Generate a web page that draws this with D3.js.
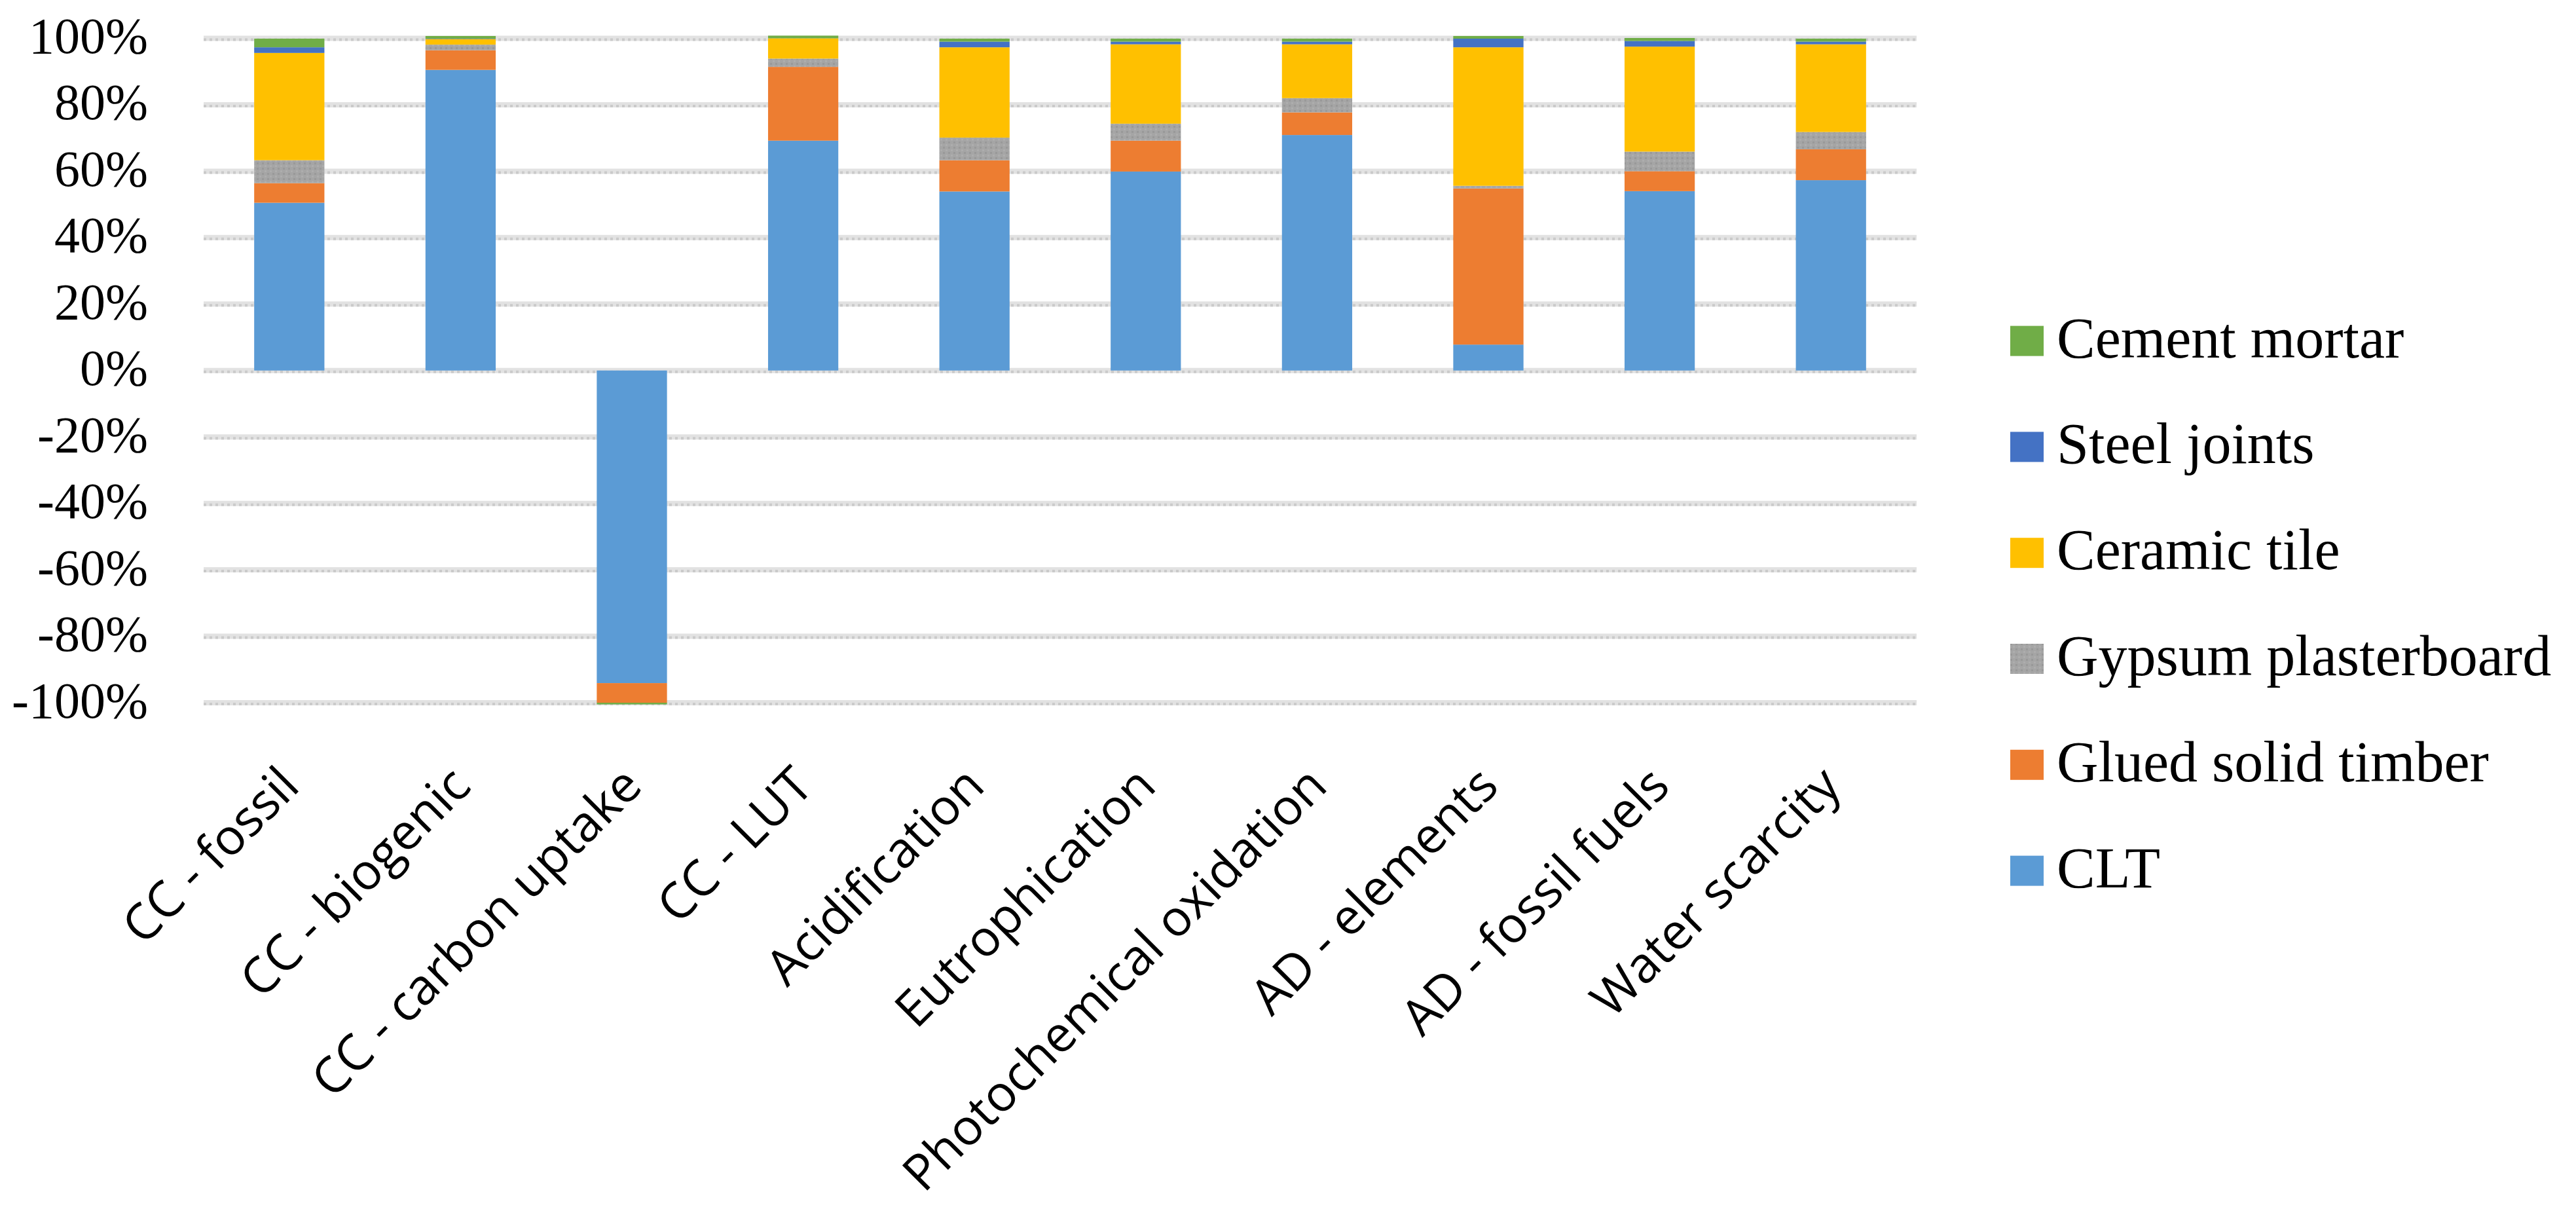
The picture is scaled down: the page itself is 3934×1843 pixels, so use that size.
<!DOCTYPE html>
<html>
<head>
<meta charset="utf-8">
<title>Stacked contributions</title>
<script src="https://d3js.org/d3.v7.min.js"></script>
<style>
  body { margin: 0; background: #fff; }
  .ytick text { font-family: "Palatino Linotype", "Book Antiqua", Palatino, "Liberation Serif", serif; font-size: 78px; fill: #000; }
  .xtick text { font-family: "Open Sans", "Segoe UI", sans-serif; font-size: 76px; fill: #000; }
  .legend text { font-family: "Palatino Linotype", "Book Antiqua", Palatino, "Liberation Serif", serif; font-size: 88px; fill: #000; }
</style>
</head>
<body>
<script>
var width = 3934, height = 1843;

var categories = ["CC - fossil", "CC - biogenic", "CC - carbon uptake", "CC - LUT", "Acidification",
  "Eutrophication", "Photochemical oxidation", "AD - elements", "AD - fossil fuels", "Water scarcity"];

var seriesNames = ["CLT", "Glued solid timber", "Gypsum plasterboard", "Ceramic tile", "Steel joints", "Cement mortar"];

// shares in %
var clt      = [50.5, 90.5, -94.1, 69.2, 53.9, 59.9, 70.9,  7.8, 54.0, 57.3];
var glued    = [ 5.9,  5.9,  -5.9, 22.2,  9.4,  9.3,  6.8, 47.0,  6.0,  9.3];
var gypsum   = [ 6.9,  1.7,   0.0,  2.5,  6.8,  5.1,  4.3,  0.8,  5.9,  5.2];
var ceramic  = [32.3,  1.7,   0.0,  6.1, 27.2, 23.9, 16.2, 41.7, 31.6, 26.4];
var steel    = [ 1.7,  0.1,   0.0,  0.0,  1.7,  0.8,  0.8,  2.6,  1.7,  0.8];
var cement   = [ 2.6,  0.8,  -0.5,  0.8,  0.9,  0.9,  0.9,  0.8,  0.9,  0.9];

var yTicks = [-100, -80, -60, -40, -20, 0, 20, 40, 60, 80, 100];

var colors = ["#5B9BD5", "#ED7D31", "url(#gypsum)", "#FFC000", "#4472C4", "#70AD47"];
var swatch = ["#5B9BD5", "#ED7D31", "url(#gypsum)", "#FFC000", "#4472C4", "#70AD47"];

var valuesBySeries = [clt, glued, gypsum, ceramic, steel, cement];
var table = categories.map(function(c, i) {
  var row = { cat: c };
  seriesNames.forEach(function(s, j) { row[s] = valuesBySeries[j][i]; });
  return row;
});

var svg = d3.select("body").append("svg")
  .attr("width", width)
  .attr("height", height);

var defs = svg.append("defs");
var pat = defs.append("pattern")
  .attr("id", "gypsum")
  .attr("width", 8).attr("height", 8)
  .attr("patternUnits", "userSpaceOnUse");
pat.append("rect").attr("width", 8).attr("height", 8).attr("fill", "#A5A5A5");
pat.append("rect").attr("x", 0).attr("y", 0).attr("width", 3).attr("height", 3).attr("fill", "#999999");
pat.append("rect").attr("x", 4).attr("y", 4).attr("width", 3).attr("height", 3).attr("fill", "#ADADAD");

var x = d3.scaleBand()
  .domain(categories)
  .range([311, 2927])
  .paddingInner(0.59)
  .paddingOuter(0.295);

var y = d3.scaleLinear()
  .domain([-100, 100])
  .range([1073, 58.5]);

// gridlines
var grid = svg.append("g");
grid.selectAll("line.base")
  .data(yTicks)
  .enter()
  .append("line")
  .attr("class", "base")
  .attr("x1", 311).attr("x2", 2927)
  .attr("y1", function(d) { return y(d); })
  .attr("y2", function(d) { return y(d); })
  .attr("stroke", "#e2e2e2")
  .attr("stroke-width", 8);
grid.selectAll("line.dots")
  .data(yTicks)
  .enter()
  .append("line")
  .attr("class", "dots")
  .attr("x1", 311).attr("x2", 2927)
  .attr("y1", function(d) { return y(d) + 2; })
  .attr("y2", function(d) { return y(d) + 2; })
  .attr("stroke", "#cacaca")
  .attr("stroke-width", 4)
  .attr("stroke-dasharray", "4,5");

// stacked bars
var stack = d3.stack()
  .keys(seriesNames)
  .offset(d3.stackOffsetDiverging);

var layers = svg.append("g").selectAll("g")
  .data(stack(table))
  .enter()
  .append("g")
  .attr("fill", function(d, i) { return colors[i]; });

layers.selectAll("rect")
  .data(function(d) { return d; })
  .enter()
  .append("rect")
  .attr("x", function(d) { return x(d.data.cat); })
  .attr("width", x.bandwidth())
  .attr("y", function(d) { return y(Math.max(d[0], d[1])); })
  .attr("height", function(d) { return Math.abs(y(d[0]) - y(d[1])); });

// y axis labels
var yAxis = svg.append("g")
  .attr("class", "ytick")
  .attr("transform", "translate(226,0)")
  .call(d3.axisLeft(y).tickValues(yTicks).tickSize(0).tickPadding(0)
    .tickFormat(function(d) { return d + "%"; }));
yAxis.select(".domain").remove();
yAxis.selectAll("text")
  .attr("x", 0)
  .attr("dy", null)
  .attr("y", 22)
  .attr("text-anchor", "end");

// x axis labels, rotated
var xAxis = svg.append("g")
  .attr("class", "xtick")
  .attr("transform", "translate(0,1185)")
  .call(d3.axisBottom(x).tickSize(0).tickPadding(0));
xAxis.select(".domain").remove();
xAxis.selectAll("text")
  .attr("x", 0)
  .attr("y", 0)
  .attr("dy", "0.35em")
  .attr("text-anchor", "end")
  .attr("transform", "rotate(-45)");

// legend, reversed order
var legendOrder = seriesNames.map(function(s, i) { return i; }).reverse();
var legend = svg.append("g").attr("class", "legend");
var item = legend.selectAll("g")
  .data(legendOrder)
  .enter()
  .append("g")
  .attr("transform", function(d, k) { return "translate(3070," + (520.6 + k * 161.8) + ")"; });
item.append("rect")
  .attr("x", 0).attr("y", -23)
  .attr("width", 51).attr("height", 46)
  .attr("fill", function(d) { return swatch[d]; });
item.append("text")
  .attr("x", 71)
  .attr("y", 25)
  .text(function(d) { return seriesNames[d]; });
</script>
</body>
</html>
